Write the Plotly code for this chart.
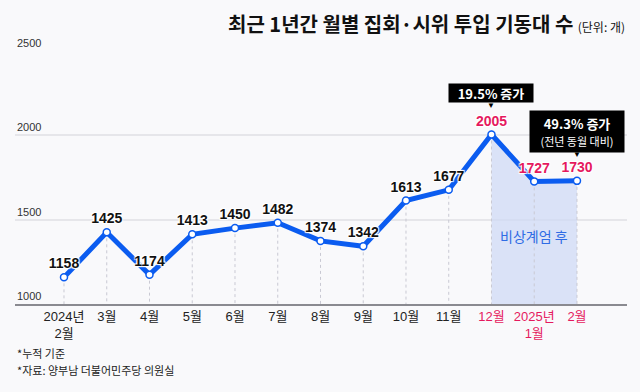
import plotly.graph_objects as go

months = ["2024년<br>2월", "3월", "4월", "5월", "6월", "7월", "8월", "9월",
          "10월", "11월", "12월", "2025년<br>1월", "2월"]
values = [1158, 1425, 1174, 1413, 1450, 1482, 1374, 1342, 1613, 1677, 2005, 1727, 1730]
y_ticks = [1000, 1500, 2000, 2500]
highlight_start = 10  # 12월 (after martial law)

BLUE = "#0b5cf0"
PINK = "#e5195e"
BG = "#f9f9fb"
FONT = "Liberation Sans, Noto Sans CJK KR, sans-serif"

xs = list(range(len(values)))
fig = go.Figure()

# shaded region (after martial law)
fig.add_trace(go.Scatter(
    x=xs[highlight_start:], y=values[highlight_start:],
    mode="lines", line=dict(width=0), fill="tozeroy",
    fillcolor="rgba(205,217,245,0.7)", hoverinfo="skip", showlegend=False))

# dashed guide lines
gx, gy = [], []
for x, v in zip(xs, values):
    gx += [x, x, None]
    gy += [v, y_ticks[0], None]
fig.add_trace(go.Scatter(x=gx, y=gy, mode="lines",
                         line=dict(color="#c9c9d3", width=1, dash="dot"),
                         hoverinfo="skip", showlegend=False))

label_colors = ["#111111" if i < highlight_start else PINK for i in xs]
fig.add_trace(go.Scatter(
    x=xs, y=values, mode="lines+markers+text",
    line=dict(color=BLUE, width=5),
    marker=dict(size=7, color="white", line=dict(color=BLUE, width=1.5)),
    text=[str(v) for v in values], textposition="top center",
    textfont=dict(size=14, color=label_colors, family=FONT, weight="bold",
                  shadow="1px 1px 1px #fff, -1px -1px 1px #fff, 1px -1px 1px #fff, -1px 1px 1px #fff"),
    cliponaxis=False, hoverinfo="skip", showlegend=False))

ticktext = [m if i < highlight_start else f"<span style='color:{PINK}'>{m}</span>"
            for i, m in enumerate(months)]

fig.update_layout(
    width=640, height=392,
    margin=dict(l=15, r=13, t=51, b=88),
    paper_bgcolor=BG, plot_bgcolor=BG,
    font=dict(family=FONT, color="#222"),
    xaxis=dict(range=[-1.146, 13.17], tickvals=xs, ticktext=ticktext,
               tickfont=dict(size=13, color="#222"), showgrid=False,
               zeroline=False, showline=True, linecolor="#8a8a90", linewidth=1.5,
               ticks="", automargin=False),
    yaxis=dict(range=[1000, 2500], tickvals=y_ticks, showticklabels=False,
               showgrid=True, gridcolor="#e6e6ea", gridwidth=1.5,
               zeroline=False, showline=False, ticks="", automargin=False),
)

# y tick labels (above gridlines)
for t in y_ticks:
    fig.add_annotation(xref="paper", yref="y", x=0, y=t, xanchor="left", yanchor="bottom",
                       yshift=0, text=str(t), showarrow=False,
                       font=dict(size=11, color="#333", family=FONT))

# title
fig.add_annotation(
    xref="paper", yref="paper", x=1, y=1.107, xanchor="right", yanchor="middle",
    text="<b>최근 1년간 월별 집회·시위 투입 기동대 수</b> <span style='font-size:12px'>(단위: 개)</span>",
    showarrow=False, font=dict(size=20, color="#111", family="Noto Sans CJK KR"))

# callouts
fig.add_annotation(x=highlight_start, y=values[highlight_start], yshift=41,
                   text="<b>19.5% 증가</b>", showarrow=False, bgcolor="#000",
                   font=dict(size=13, color="white", family="Noto Sans CJK KR"),
                   width=80, height=14, borderpad=2)
fig.add_annotation(x=highlight_start, y=values[highlight_start], yshift=29,
                   text="▼", showarrow=False, font=dict(size=8, color="#000"))
last = len(values) - 1
fig.add_annotation(x=last, y=values[last], yshift=49, xshift=0,
                   text="<b>49.3% 증가</b><br><span style='font-size:11px'>(전년 동월 대비)</span>",
                   showarrow=False, bgcolor="#000",
                   font=dict(size=13, color="white", family="Noto Sans CJK KR"),
                   width=88, borderpad=3)
fig.add_annotation(x=last, y=values[last], yshift=26,
                   text="▼", showarrow=False, font=dict(size=8, color="#000"))

fig.add_annotation(x=(highlight_start + last) / 2, y=1403, text="비상계엄 후",
                   showarrow=False, font=dict(size=14, color="#2f6ce5", family="Noto Sans CJK KR"))

# footnotes
fig.add_annotation(xref="paper", yref="paper", x=0, y=-0.194, xanchor="left", yanchor="middle",
                   text="*누적 기준", showarrow=False,
                   font=dict(size=11, color="#222", family="Noto Sans CJK KR"))
fig.add_annotation(xref="paper", yref="paper", x=0, y=-0.261, xanchor="left", yanchor="middle",
                   text="*자료: 양부남 더불어민주당 의원실", showarrow=False,
                   font=dict(size=11, color="#222", family="Noto Sans CJK KR"))

fig.write_html("out.html", config={"displayModeBar": False},
               post_script="document.body.style.margin='0';document.body.style.background='%s';" % BG)
